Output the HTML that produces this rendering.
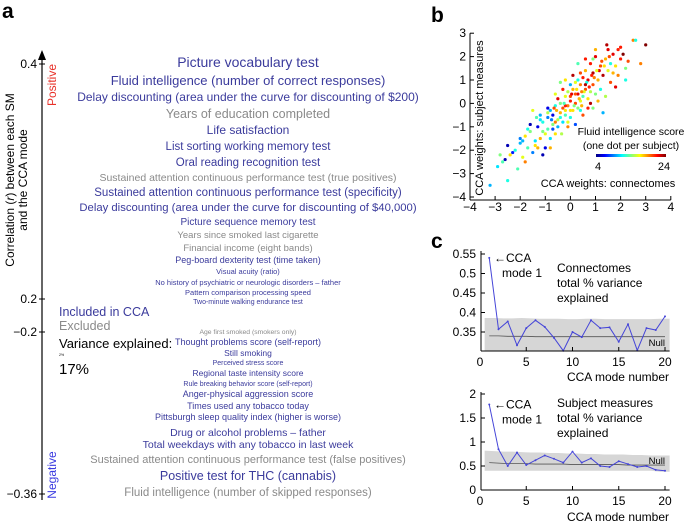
<!DOCTYPE html>
<html><head><meta charset="utf-8">
<style>
html,body{margin:0;padding:0;background:#fff;}
svg{display:block;font-family:"Liberation Sans",Arial,sans-serif;}
.b{fill:#3b3b9c}.g{fill:#8a8a8a}
</style></head>
<body>
<svg id="fig" width="685" height="525" viewBox="0 0 685 525" xmlns="http://www.w3.org/2000/svg">
<g>
<text x="2" y="18" font-size="21" font-weight="bold">a</text>
<line x1="42" y1="56" x2="42" y2="500" stroke="#000" stroke-width="1.2"/>
<polygon points="42,50 38,60 46,60" fill="#000"/>
<g stroke="#000" stroke-width="1">
<line x1="39" y1="64" x2="45" y2="64"/><line x1="39" y1="299" x2="45" y2="299"/><line x1="39" y1="332" x2="45" y2="332"/><line x1="39" y1="494" x2="45" y2="494"/></g>
<g font-size="12" text-anchor="end">
<text x="37" y="68">0.4</text><text x="37" y="303">0.2</text><text x="37" y="336">−0.2</text><text x="37" y="498">−0.36</text></g>
<text transform="translate(14,180) rotate(-90)" font-size="12" text-anchor="middle">Correlation (<tspan font-style="italic">r</tspan>) between each SM</text>
<text transform="translate(27,180) rotate(-90)" font-size="12" text-anchor="middle">and the CCA mode</text>
<text transform="translate(56,85) rotate(-90)" font-size="12" fill="#e8322a" text-anchor="middle">Positive</text>
<text transform="translate(56,475) rotate(-90)" font-size="12" fill="#3a3ae0" text-anchor="middle">Negative</text>
<g text-anchor="middle">
<text x="248" y="67" font-size="14" class="b">Picture vocabulary test</text>
<text x="248" y="85" font-size="13" class="b">Fluid intelligence (number of correct responses)</text>
<text x="248" y="101" font-size="12" class="b">Delay discounting (area under the curve for discounting of $200)</text>
<text x="248" y="118" font-size="12.5" class="g">Years of education completed</text>
<text x="248" y="134" font-size="12" class="b">Life satisfaction</text>
<text x="248" y="150" font-size="11.5" class="b">List sorting working memory test</text>
<text x="248" y="166" font-size="11.5" class="b">Oral reading recognition test</text>
<text x="248" y="181" font-size="10.5" class="g">Sustained attention continuous performance test (true positives)</text>
<text x="248" y="196" font-size="11.5" class="b">Sustained attention continuous performance test (specificity)</text>
<text x="248" y="211" font-size="11.3" class="b">Delay discounting (area under the curve for discounting of $40,000)</text>
<text x="248" y="225" font-size="10" class="b">Picture sequence memory test</text>
<text x="248" y="238" font-size="9.5" class="g">Years since smoked last cigarette</text>
<text x="248" y="251" font-size="9.5" class="g">Financial income (eight bands)</text>
<text x="248" y="263" font-size="9" class="b">Peg-board dexterity test (time taken)</text>
<text x="248" y="274" font-size="7.5" class="b">Visual acuity (ratio)</text>
<text x="248" y="285" font-size="7.5" class="b">No history of psychiatric or neurologic disorders – father</text>
<text x="248" y="295" font-size="7.5" class="b">Pattern comparison processing speed</text>
<text x="248" y="304" font-size="7" class="b">Two-minute walking endurance test</text>
<text x="248" y="334" font-size="6.8" class="g">Age first smoked (smokers only)</text>
<text x="248" y="345" font-size="9" class="b">Thought problems score (self-report)</text>
<text x="248" y="356" font-size="8.5" class="b">Still smoking</text>
<text x="248" y="365" font-size="7" class="b">Perceived stress score</text>
<text x="248" y="376" font-size="8.5" class="b">Regional taste intensity score</text>
<text x="248" y="386" font-size="7" class="b">Rule breaking behavior score (self-report)</text>
<text x="248" y="397" font-size="9" class="b">Anger-physical aggression score</text>
<text x="248" y="409" font-size="9" class="b">Times used any tobacco today</text>
<text x="248" y="420" font-size="9" class="b">Pittsburgh sleep quality index (higher is worse)</text>
<text x="248" y="436" font-size="10.5" class="b">Drug or alcohol problems – father</text>
<text x="248" y="448" font-size="10.5" class="b">Total weekdays with any tobacco in last week</text>
<text x="248" y="463" font-size="11" class="g">Sustained attention continuous performance test (false positives)</text>
<text x="248" y="480" font-size="12.5" class="b">Positive test for THC (cannabis)</text>
<text x="248" y="496" font-size="11.5" class="g">Fluid intelligence (number of skipped responses)</text>
</g>
<text x="59" y="316" font-size="12.5" class="b">Included in CCA</text>
<text x="59" y="330" font-size="12.5" class="g">Excluded</text>
<text x="59" y="348" font-size="13">Variance explained:</text>
<text x="59" y="356" font-size="3.5">2%</text>
<text x="59" y="374" font-size="15">17%</text>
</g>

<g id="panelB">
<text x="431" y="22" font-size="21" font-weight="bold">b</text>
</g>
<g id="panelC">
<text x="431" y="248" font-size="21" font-weight="bold">c</text>
</g>
</svg>
<script>
const scX=[-3.2,-2.5,-2.9,-2.8,-2.6,-2.5,-2.3,-2.2,-2.0,-1.9,-1.8,-1.7,-1.6,-1.5,-1.4,-1.3,-1.2,-1.1,-1.0,-1.0,-0.9,-0.9,-0.8,-0.8,-0.7,-0.7,-0.6,-0.6,-0.5,-0.5,-0.4,-0.4,-0.3,-0.3,-0.2,-0.2,-0.1,-0.1,0.0,0.0,0.1,0.1,0.2,0.2,0.3,0.3,0.4,0.4,0.5,0.5,0.6,0.6,0.7,0.7,0.8,0.8,0.9,0.9,1.0,1.0,1.1,1.2,1.2,1.3,1.4,1.5,1.6,1.7,1.8,1.9,2.0,2.1,2.2,2.3,2.5,2.6,2.8,3.0,1.5,0.3,-0.4,-1.2,-1.5,0.9,1.3,-2.1,-1.8,-0.3,0.2,0.5,-0.9,1.0,0.6,-0.2,1.8,2.2,-1.6,-1.1,0.0,0.4,-0.6,0.8,1.4,-0.1,-1.3,-2.4,-0.8,0.1,0.3,0.7,1.1,-0.5,0.0,-0.2,0.2,0.4,-0.7,1.6,1.9,
-2.7,-2.0,-1.4,-1.2,-0.9,-0.6,-0.4,-0.2,0.0,0.15,0.35,0.55,0.75,0.95,1.15,1.35,1.55,-1.7,-1.1,-0.55,-0.25,0.05,0.25,0.45,0.65,0.85,1.05,1.25,-0.75,-0.35,0.6,1.7,2.0,-1.9,-0.1,0.45,0.9,-1.35,-0.65,1.45];
const scY=[-3.5,-3.3,-2.7,-2.2,-2.4,-1.8,-2.1,-2.0,-1.7,-2.3,-1.4,-1.9,-1.2,-2.1,-1.6,-1.0,-1.5,-0.8,-1.9,-1.3,-0.6,-1.1,-0.3,-1.5,-0.9,-0.5,-1.3,-0.1,-0.7,-1.0,-0.4,0.0,-0.8,-0.2,0.3,-0.5,-0.1,0.5,-0.6,0.1,-0.3,0.6,0.0,0.9,-0.2,0.4,0.8,0.1,1.1,0.3,0.6,1.4,0.2,1.0,0.5,1.7,0.8,1.3,0.4,2.0,1.0,1.6,0.6,1.2,1.9,1.4,0.9,2.1,1.6,1.2,1.9,2.1,1.5,1.8,2.7,2.7,1.7,2.5,2.3,1.7,0.9,-0.5,-0.3,-0.2,-0.4,-2.8,-2.5,0.6,-0.9,-0.5,-0.2,2.3,1.9,1.0,0.7,1.0,-0.9,-2.2,0.8,1.3,0.4,0.0,0.3,-1.0,-1.9,-2.2,-1.9,1.2,1.0,-0.2,0.1,0.2,-0.3,-0.1,0.4,-0.3,-1.1,1.7,2.3,
-2.5,-1.5,-1.8,-0.7,-0.4,-0.8,-0.6,-0.3,0.3,-0.1,0.2,0.5,0.7,1.1,1.4,1.6,2.0,-1.1,-1.2,-0.3,0.0,0.4,0.6,0.5,0.9,1.2,1.4,1.8,-0.7,-1.3,0.8,1.3,2.4,-1.6,-0.8,-0.1,1.9,-0.6,-0.2,2.5];
const scS=[10,12,11,14,5,5,7,12,10,16,17,13,14,9,11,6,18,12,6,16,9,13,10,11,14,6,17,12,15,10,18,14,11,20,16,13,19,15,12,21,17,18,20,16,14,22,19,16,21,13,20,18,17,22,15,21,20,23,14,22,18,20,12,23,18,16,20,22,17,19,21,24,14,20,19,12,19,24,22,13,14,10,16,14,10,13,19,21,8,20,6,18,21,17,22,12,5,5,10,20,16,23,15,19,18,17,18,23,12,21,18,22,17,21,20,12,8,12,21,
13,9,17,11,15,19,12,17,20,14,18,16,21,19,22,17,20,12,14,18,13,22,17,19,12,21,16,20,9,15,23,18,21,10,16,18,14,13,20,23];
const bTicks=[-4,-3,-2,-1,0,1,2,3,4];
const bYTicks=[-4,-3,-2,-1,0,1,2,3];
const modes=[1,2,3,4,5,6,7,8,9,10,11,12,13,14,15,16,17,18,19,20];
const connVar=[0.54,0.357,0.377,0.316,0.36,0.38,0.363,0.335,0.302,0.35,0.337,0.38,0.36,0.362,0.325,0.37,0.303,0.36,0.355,0.39];
const connNull=[0.34,0.34,0.339,0.339,0.339,0.338,0.338,0.338,0.338,0.338,0.338,0.338,0.338,0.338,0.338,0.338,0.338,0.338,0.338,0.338];
const connHi=[0.386,0.386,0.385,0.385,0.386,0.385,0.384,0.384,0.384,0.383,0.383,0.384,0.384,0.383,0.383,0.383,0.383,0.383,0.383,0.384];
const subjVar=[1.78,0.85,0.5,0.78,0.52,0.62,0.72,0.65,0.57,0.8,0.57,0.66,0.5,0.48,0.6,0.54,0.48,0.5,0.42,0.4];
const subjNull=[0.57,0.56,0.55,0.55,0.55,0.54,0.54,0.54,0.54,0.53,0.53,0.53,0.53,0.53,0.53,0.52,0.52,0.52,0.52,0.52];
const subjHi=[0.82,0.81,0.8,0.8,0.79,0.78,0.78,0.77,0.77,0.76,0.76,0.75,0.75,0.74,0.74,0.74,0.73,0.73,0.72,0.72];
const subjLo=[0.4,0.4,0.4,0.4,0.4,0.4,0.4,0.4,0.4,0.4,0.4,0.4,0.4,0.4,0.4,0.4,0.4,0.4,0.38,0.38];
const cXTicks=[0,5,10,15,20];
const cTopTicks=[0.35,0.4,0.45,0.5,0.55];
const cBotTicks=[0,0.5,1,1.5,2];

const NS='http://www.w3.org/2000/svg';
function mk(parent,tag,attrs,txt){const e=document.createElementNS(NS,tag);for(const k in attrs)e.setAttribute(k,attrs[k]);if(txt!==undefined)e.textContent=txt;parent.appendChild(e);return e;}
function jet(t){t=Math.max(0,Math.min(1,t));const r=Math.max(0,Math.min(1,1.5-Math.abs(4*t-3))),g=Math.max(0,Math.min(1,1.5-Math.abs(4*t-2))),b=Math.max(0,Math.min(1,1.5-Math.abs(4*t-1)));return `rgb(${Math.round(r*255)},${Math.round(g*255)},${Math.round(b*255)})`;}
const fmt=v=>(v<0?'−':'')+Math.abs(v);

// Panel B
const B=document.getElementById('panelB');
const bx=v=>470+(v+4)*25.1, by=v=>197-(v+4)*23.4;
let e;
e=mk(B,'line',{x1:470,y1:by(3),x2:470,y2:200,stroke:'#000','stroke-width':1});

e=mk(B,'line',{x1:470,y1:200,x2:bx(4),y2:200,stroke:'#000','stroke-width':1});

bTicks.forEach(t=>{mk(B,'line',{x1:bx(t),y1:200,x2:bx(t),y2:196,stroke:'#000'});
 e=mk(B,'text',{x:bx(t),y:211,'font-size':12,'text-anchor':'middle'},fmt(t));
 });
bYTicks.forEach(t=>{mk(B,'line',{x1:470,y1:by(t),x2:474,y2:by(t),stroke:'#000'});
 e=mk(B,'text',{x:466,y:by(t)+4,'font-size':12,'text-anchor':'end'},fmt(t));
 });
scX.forEach((x,i)=>{e=mk(B,'circle',{cx:bx(x),cy:by(scY[i]),r:1.6,fill:jet((scS[i]-4)/20)});
 });
e=mk(B,'text',{transform:'translate(483,118) rotate(-90)','font-size':11,'text-anchor':'middle'},'CCA weights: subject measures');

e=mk(B,'text',{x:608,y:187,'font-size':11,'text-anchor':'middle'},'CCA weights: connectomes');

e=mk(B,'text',{x:631,y:135,'font-size':10.5,'text-anchor':'middle'},'Fluid intelligence score');

e=mk(B,'text',{x:631,y:149,'font-size':10.5,'text-anchor':'middle'},'(one dot per subject)');

const defs=mk(B,'defs',{});const lg=mk(defs,'linearGradient',{id:'jetg'});
for(let i=0;i<=8;i++)mk(lg,'stop',{offset:(i/8),'stop-color':jet(i/8)});
e=mk(B,'rect',{x:596,y:154,width:70,height:3,fill:'url(#jetg)'});

e=mk(B,'text',{x:598,y:170,'font-size':11,'text-anchor':'middle'},'4');

e=mk(B,'text',{x:664,y:170,'font-size':11,'text-anchor':'middle'},'24');


// Panel C
const C=document.getElementById('panelC');
const cx=v=>480+v*9.25;
function plot(yf,y0,yTop,ticks,vals,nul,hi,lo,xlabY,titleY,labelLines,nullY,nm){
 const bandTop=modes.map((m,i)=>`${cx(m-0.5)},${yf(hi[i])}`);
 const bandBot=modes.map((m,i)=>`${cx(m+0.5)},${yf(lo[i])}`).reverse();
 e=mk(C,'polygon',{points:bandTop.concat([`${cx(20.5)},${yf(hi[19])}`]).concat(bandBot).concat([`${cx(0.5)},${yf(lo[0])}`]).join(' '),fill:'#d6d6d6'});
 
 e=mk(C,'polyline',{points:modes.map((m,i)=>`${cx(m)},${yf(nul[i])}`).join(' '),fill:'none',stroke:'#555','stroke-width':0.8});
 
 e=mk(C,'polyline',{points:modes.map((m,i)=>`${cx(m)},${yf(vals[i])}`).join(' '),fill:'none',stroke:'#4545d8','stroke-width':1});
 
 modes.forEach((m,i)=>{e=mk(C,'circle',{cx:cx(m),cy:yf(vals[i]),r:1,fill:'#4545d8'});
  });
 e=mk(C,'line',{x1:481,y1:yTop,x2:481,y2:y0,stroke:'#000'});
 
 e=mk(C,'line',{x1:481,y1:y0,x2:cx(20.5),y2:y0,stroke:'#000'});
 
 ticks.forEach(t=>{mk(C,'line',{x1:481,y1:yf(t),x2:485,y2:yf(t),stroke:'#000'});
  e=mk(C,'text',{x:476,y:yf(t)+4,'font-size':12,'text-anchor':'end'},String(t));
  });
 cXTicks.forEach(t=>{if(t>0)mk(C,'line',{x1:cx(t),y1:y0,x2:cx(t),y2:y0-4,stroke:'#000'});
  e=mk(C,'text',{x:cx(t),y:xlabY,'font-size':12,'text-anchor':'middle'},String(t));
  });
 e=mk(C,'text',{x:669,y:titleY,'font-size':12,'text-anchor':'end'},'CCA mode number');
 
 const ay=yf(vals[0]);
 e=mk(C,'text',{x:494,y:ay+4,'font-size':12},'←CCA');
 
 mk(C,'text',{x:502,y:ay+19,'font-size':12},'mode 1');
 labelLines.forEach((l,i)=>{e=mk(C,'text',{x:557,y:labelLines.y0+i*15,'font-size':12},l);
  });
 e=mk(C,'text',{x:665,y:nullY,'font-size':9.5,'text-anchor':'end'},'Null');
 
}
const l1=['Connectomes','total % variance','explained'];l1.y0=272;
plot(v=>332-(v-0.35)*390,351,251,cTopTicks,connVar,connNull,connHi,connVar.map(()=>0.3),366,381,l1,346,'connectomes');
const l2=['Subject measures','total % variance','explained'];l2.y0=407;
plot(v=>490-v*48,490,392,cBotTicks,subjVar,subjNull,subjHi,subjLo,505,521,l2,464,'subject');
</script>
</body></html>
